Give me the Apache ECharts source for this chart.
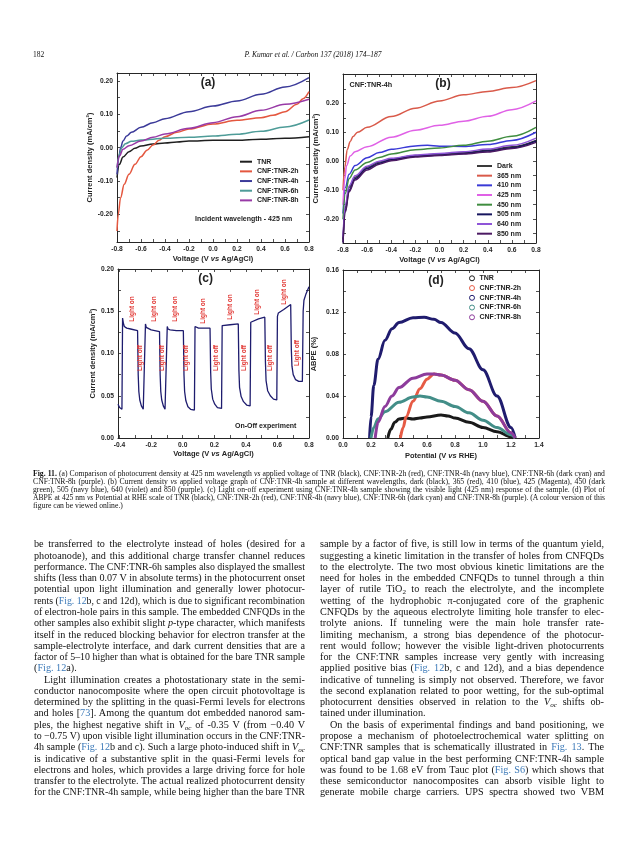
<!DOCTYPE html>
<html><head><meta charset="utf-8">
<script src="https://cdn.jsdelivr.net/npm/echarts@6/dist/echarts.min.js"></script>
<style>
html,body{margin:0;padding:0;background:#fff;}
#page{position:relative;width:638px;height:851px;overflow:hidden;background:#fff;}
#chart{position:absolute;left:0;top:0;width:638px;height:851px;}
.ln{position:absolute;white-space:nowrap;font-family:"Liberation Serif","DejaVu Serif",serif;color:#111;line-height:1;}
.ln span.in{display:inline-block;white-space:nowrap;transform-origin:0 50%;}
.lk{color:#3b79b8;}
sub{font-size:70%;vertical-align:-0.25em;line-height:0;}
</style></head>
<body>
<div id="page">
<div id="chart"></div>
<div id="texts"></div>
</div>
<script>
// ---------------- DATA ----------------
const samples = ['TNR','CNF:TNR-2h','CNF:TNR-4h','CNF:TNR-6h','CNF:TNR-8h'];
// (a) current density vs voltage, 425 nm
const aTNR = [[-0.8,-0.09],[-0.78,-0.05],[-0.75,-0.028],[-0.7,-0.012],[-0.65,-0.002],[-0.6,0.005],[-0.5,0.011],[-0.4,0.014],[-0.3,0.017],[-0.2,0.02],[0,0.022],[0.2,0.022],[0.4,0.025],[0.6,0.028],[0.8,0.033]];
const a2h = [[-0.8,-0.25],[-0.79,-0.2],[-0.77,-0.15],[-0.74,-0.11],[-0.7,-0.08],[-0.65,-0.05],[-0.6,-0.027],[-0.55,-0.008],[-0.5,0.008],[-0.45,0.022],[-0.4,0.033],[-0.3,0.046],[-0.2,0.056],[0,0.071],[0.2,0.082],[0.4,0.09],[0.5,0.097],[0.6,0.108],[0.7,0.13],[0.75,0.147],[0.8,0.168]];
const a4h = [[-0.8,-0.08],[-0.785,-0.03],[-0.77,0.0],[-0.75,0.02],[-0.72,0.035],[-0.68,0.046],[-0.6,0.061],[-0.5,0.075],[-0.4,0.087],[-0.2,0.108],[0,0.125],[0.2,0.14],[0.4,0.16],[0.6,0.182],[0.8,0.21]];
const a6h = [[-0.8,-0.06],[-0.78,-0.02],[-0.76,0.0],[-0.73,0.012],[-0.68,0.019],[-0.6,0.023],[-0.4,0.028],[-0.2,0.031],[0,0.035],[0.2,0.04],[0.4,0.049],[0.6,0.062],[0.8,0.083]];
const a8h = [[-0.8,-0.06],[-0.78,-0.025],[-0.75,-0.005],[-0.7,0.006],[-0.6,0.02],[-0.5,0.031],[-0.4,0.041],[-0.2,0.058],[0,0.075],[0.2,0.093],[0.4,0.112],[0.6,0.13],[0.8,0.145]];
// (b) CNF:TNR-4h at different wavelengths
const wl = ['Dark','365 nm','410 nm','425 nm','450 nm','505 nm','640 nm','850 nm'];
const bDark = [[-0.8,-0.27],[-0.78,-0.16],[-0.75,-0.09],[-0.7,-0.055],[-0.6,-0.02],[-0.5,-0.003],[-0.4,0.008],[-0.2,0.02],[0,0.025],[0.2,0.03],[0.4,0.038],[0.6,0.05],[0.8,0.072]];
const b365 = [[-0.8,-0.1],[-0.785,-0.02],[-0.765,0.04],[-0.74,0.068],[-0.717,0.085],[-0.68,0.1],[-0.6,0.117],[-0.4,0.154],[-0.2,0.183],[0,0.208],[0.2,0.229],[0.4,0.241],[0.6,0.254],[0.8,0.278]];
const b410 = [[-0.8,-0.18],[-0.78,-0.09],[-0.75,-0.045],[-0.7,-0.015],[-0.6,0.012],[-0.5,0.03],[-0.4,0.041],[-0.2,0.053],[-0.1,0.055],[0,0.052],[0.2,0.051],[0.4,0.058],[0.6,0.072],[0.8,0.1]];
const b425 = [[-0.8,-0.15],[-0.785,-0.06],[-0.77,-0.015],[-0.74,0.018],[-0.7,0.033],[-0.6,0.05],[-0.4,0.083],[-0.2,0.107],[0,0.124],[0.2,0.138],[0.4,0.155],[0.6,0.178],[0.8,0.208]];
const b450 = [[-0.8,-0.2],[-0.78,-0.11],[-0.75,-0.06],[-0.7,-0.03],[-0.6,-0.004],[-0.5,0.013],[-0.4,0.025],[-0.2,0.04],[0,0.046],[0.2,0.055],[0.4,0.069],[0.6,0.086],[0.8,0.117]];
const b505 = [[-0.8,-0.28],[-0.78,-0.17],[-0.75,-0.1],[-0.7,-0.06],[-0.6,-0.025],[-0.5,-0.007],[-0.4,0.005],[-0.2,0.017],[0,0.022],[0.2,0.027],[0.4,0.035],[0.6,0.047],[0.8,0.07]];
const b640 = [[-0.8,-0.26],[-0.78,-0.15],[-0.75,-0.085],[-0.7,-0.05],[-0.6,-0.017],[-0.5,0.0],[-0.4,0.01],[-0.2,0.022],[0,0.027],[0.2,0.033],[0.4,0.042],[0.6,0.055],[0.8,0.08]];
const b850 = [[-0.8,-0.28],[-0.78,-0.175],[-0.75,-0.105],[-0.7,-0.065],[-0.6,-0.03],[-0.5,-0.01],[-0.4,0.002],[-0.2,0.015],[0,0.02],[0.2,0.025],[0.4,0.032],[0.6,0.044],[0.8,0.065]];
// (c) on-off chopped photocurrent
const cOnOff = [[-0.41,0.040],[-0.40,0.036],[-0.385,0.034],
 [-0.383,0.034],[-0.381,0.142],[-0.376,0.136],[-0.37,0.132],[-0.355,0.130],[-0.33,0.129],[-0.286,0.127],
 [-0.284,0.127],[-0.282,0.075],[-0.278,0.055],[-0.272,0.045],[-0.262,0.038],[-0.25,0.034],[-0.240,0.033],
 [-0.238,0.033],[-0.236,0.135],[-0.231,0.131],[-0.222,0.129],[-0.2,0.128],[-0.147,0.126],
 [-0.145,0.126],[-0.143,0.075],[-0.139,0.055],[-0.133,0.045],[-0.123,0.038],[-0.112,0.034],[-0.102,0.033],
 [-0.100,0.033],[-0.098,0.132],[-0.093,0.129],[-0.08,0.128],[-0.04,0.127],[0.004,0.127],
 [0.006,0.127],[0.008,0.075],[0.012,0.055],[0.02,0.044],[0.033,0.037],[0.05,0.034],[0.074,0.033],
 [0.076,0.033],[0.078,0.132],[0.083,0.130],[0.1,0.130],[0.14,0.130],[0.173,0.130],
 [0.175,0.130],[0.177,0.078],[0.181,0.058],[0.19,0.046],[0.203,0.040],[0.22,0.036],[0.246,0.035],
 [0.248,0.035],[0.250,0.133],[0.256,0.133],[0.3,0.134],[0.352,0.135],
 [0.354,0.135],[0.356,0.08],[0.36,0.06],[0.37,0.049],[0.385,0.043],[0.405,0.039],[0.427,0.038],
 [0.429,0.038],[0.431,0.137],[0.437,0.139],[0.48,0.141],[0.52,0.143],
 [0.522,0.143],[0.524,0.09],[0.528,0.068],[0.538,0.056],[0.555,0.05],[0.575,0.046],[0.596,0.045],
 [0.598,0.045],[0.600,0.144],[0.606,0.148],[0.64,0.152],[0.684,0.158],
 [0.686,0.158],[0.688,0.105],[0.692,0.085],[0.7,0.075],[0.715,0.069],[0.735,0.067],[0.758,0.067],
 [0.760,0.067],[0.763,0.150],[0.768,0.163],[0.78,0.170],[0.8,0.179]];
// (d) ABPE vs potential (RHE)
const dTNR = [[0.32,0],[0.34,0.008],[0.37,0.015],[0.4,0.018],[0.45,0.019],[0.5,0.018],[0.55,0.019],[0.6,0.02],[0.7,0.022],[0.75,0.021],[0.8,0.019],[0.9,0.015],[1.0,0.01],[1.1,0.006],[1.2,0.001],[1.22,0]];
const d2h = [[0.41,0],[0.43,0.01],[0.45,0.02],[0.5,0.035],[0.55,0.047],[0.6,0.056],[0.65,0.061],[0.7,0.06],[0.8,0.055],[0.9,0.046],[1.0,0.035],[1.1,0.021],[1.2,0.005],[1.23,0]];
const d4h = [[0.19,0],[0.2,0.02],[0.22,0.05],[0.25,0.075],[0.3,0.093],[0.35,0.104],[0.4,0.11],[0.5,0.1145],[0.58,0.115],[0.65,0.113],[0.7,0.11],[0.8,0.1],[0.9,0.085],[1.0,0.065],[1.1,0.04],[1.2,0.01],[1.23,0]];
const d6h = [[0.2,0],[0.22,0.01],[0.25,0.018],[0.3,0.025],[0.4,0.034],[0.5,0.039],[0.55,0.04],[0.6,0.039],[0.7,0.035],[0.8,0.03],[0.9,0.024],[1.0,0.017],[1.1,0.01],[1.2,0.003],[1.23,0]];
const d8h = [[0.23,0],[0.25,0.015],[0.3,0.03],[0.35,0.04],[0.4,0.048],[0.5,0.057],[0.6,0.061],[0.65,0.061],[0.7,0.06],[0.8,0.055],[0.9,0.046],[1.0,0.035],[1.1,0.021],[1.2,0.005],[1.23,0]];
// tick labels
const xTicksAB = [-0.8,-0.6,-0.4,-0.2,0,0.2,0.4,0.6,0.8];
const xMinorAB = [-0.8,-0.7,-0.6,-0.5,-0.4,-0.3,-0.2,-0.1,0,0.1,0.2,0.3,0.4,0.5,0.6,0.7,0.8];
const yTicksAB = [-0.2,-0.1,0,0.1,0.2];
const yMinorA = [-0.25,-0.2,-0.15,-0.1,-0.05,0,0.05,0.1,0.15,0.2];
const yMinorB = [-0.25,-0.2,-0.15,-0.1,-0.05,0,0.05,0.1,0.15,0.2,0.25];
const xTicksC = [-0.4,-0.2,0,0.2,0.4,0.6,0.8];
const xMinorC = [-0.4,-0.3,-0.2,-0.1,0,0.1,0.2,0.3,0.4,0.5,0.6,0.7,0.8];
const yTicksC = [0,0.05,0.1,0.15,0.2];
const yMinorC = [0,0.025,0.05,0.075,0.1,0.125,0.15,0.175,0.2];
const xTicksD = [0,0.2,0.4,0.6,0.8,1.0,1.2,1.4];
const xMinorD = [0,0.1,0.2,0.3,0.4,0.5,0.6,0.7,0.8,0.9,1.0,1.1,1.2,1.3,1.4];
const yTicksD = [0,0.04,0.08,0.12,0.16];
const yMinorD = [0,0.02,0.04,0.06,0.08,0.1,0.12,0.14,0.16];

// ---------------- CHART ----------------
const F = '"Liberation Sans", Arial, sans-serif';
const AX = '#262626';
const colA = ['#1f1f1f','#e4573f','#3b3a99','#4e9c98','#983aa6'];
const colB = ['#3a3a3a','#d95a4a','#3a3ad6','#e061e6','#3f8d3f','#16155e','#8f55d8','#4c1a63'];
const colD = ['#1a1a1a','#e65b45','#201c6e','#438e88','#8d3c9c'];

function xAxes(g,min,max,lab,tick,dec,name,gap){
  return [{type:'value',gridIndex:g,min:min,max:max,position:'bottom',
    axisLine:{show:true,onZero:false,lineStyle:{color:AX,width:1}},
    axisTick:{show:true,inside:true,length:3,customValues:tick,lineStyle:{color:AX,width:0.8}},
    axisLabel:{show:true,customValues:lab,formatter:v=>(Math.abs(v)<1e-9?0:v).toFixed(dec),fontSize:6.7,fontWeight:'bold',color:AX,fontFamily:F,margin:4},
    splitLine:{show:false},name:name,nameLocation:'middle',nameGap:gap,
    nameTextStyle:{fontSize:7.5,fontWeight:'bold',color:AX,fontFamily:F,rich:{i:{fontSize:7.5,fontWeight:'bold',fontStyle:'italic',color:AX,fontFamily:F}}}},
   {type:'value',gridIndex:g,min:min,max:max,position:'top',
    axisLine:{show:true,onZero:false,lineStyle:{color:AX,width:1}},
    axisTick:{show:true,inside:true,length:3,customValues:tick,lineStyle:{color:AX,width:0.8}},
    axisLabel:{show:false},splitLine:{show:false}}];
}
function yAxes(g,min,max,lab,tick,dec,name,gap){
  return [{type:'value',gridIndex:g,min:min,max:max,position:'left',
    axisLine:{show:true,onZero:false,lineStyle:{color:AX,width:1}},
    axisTick:{show:true,inside:true,length:3,customValues:tick,lineStyle:{color:AX,width:0.8}},
    axisLabel:{show:true,customValues:lab,formatter:v=>(Math.abs(v)<1e-9?0:v).toFixed(dec),fontSize:6.7,fontWeight:'bold',color:AX,fontFamily:F,margin:4},
    splitLine:{show:false},name:name,nameLocation:'middle',nameGap:gap,
    nameTextStyle:{fontSize:7.5,fontWeight:'bold',color:AX,fontFamily:F}},
   {type:'value',gridIndex:g,min:min,max:max,position:'right',
    axisLine:{show:true,onZero:false,lineStyle:{color:AX,width:1}},
    axisTick:{show:true,inside:true,length:3,customValues:tick,lineStyle:{color:AX,width:0.8}},
    axisLabel:{show:false},splitLine:{show:false}}];
}
const vName = 'Voltage (V {i|vs} Ag/AgCl)';
const cdName = 'Current density (mA/cm²)';
const xAxis = [].concat(
  xAxes(0,-0.8,0.8,xTicksAB,xMinorAB,1,vName,13),
  xAxes(1,-0.8,0.8,xTicksAB,xMinorAB,1,vName,13),
  xAxes(2,-0.41,0.8,xTicksC,xMinorC,1,vName,12),
  xAxes(3,0,1.4,xTicksD,xMinorD,1,'Potential (V {i|vs} RHE)',14));
const yAxis = [].concat(
  yAxes(0,-0.283,0.224,yTicksAB,yMinorA,2,cdName,20),
  yAxes(1,-0.282,0.301,yTicksAB,yMinorB,2,cdName,19),
  yAxes(2,0,0.2,yTicksC,yMinorC,2,cdName,20),
  yAxes(3,0,0.16,yTicksD,yMinorD,2,'ABPE (%)',25));

function line(name,data,g,color,w,smooth){
  return {type:'line',name:name,data:data,xAxisIndex:g*2,yAxisIndex:g*2,showSymbol:false,symbol:'none',
    smooth:smooth,smoothMonotone:'x',lineStyle:{color:color,width:w},itemStyle:{color:color},animation:false,z:3};
}
const aData=[aTNR,a2h,a4h,a6h,a8h];
const bData=[bDark,b365,b410,b425,b450,b505,b640,b850];
const dData=[dTNR,d2h,d4h,d6h,d8h];
const series=[];
samples.forEach((n,i)=>series.push(line(n,aData[i],0,colA[i],1.5,0.35)));
wl.forEach((n,i)=>series.push(line(n,bData[i],1,colB[i],1.5,0.35)));
series.push(line('On-Off',cOnOff,2,'#1e1c6e',1.3,false));
samples.forEach((n,i)=>series.push(line(n,dData[i],3,colD[i],3,0.35)));

const legText={fontSize:7,fontWeight:'bold',fontFamily:F,color:'#222',lineHeight:8};
const legends=[
  {orient:'vertical',left:240,top:157.7,padding:0,itemWidth:12,itemHeight:2,itemGap:1.67,icon:'rect',selectedMode:false,textStyle:legText,
   data:samples.map((n,i)=>({name:n,itemStyle:{color:colA[i]}}))},
  {orient:'vertical',left:477,top:162,padding:0,itemWidth:15,itemHeight:2,itemGap:1.67,icon:'rect',selectedMode:false,textStyle:legText,
   data:wl.map((n,i)=>({name:n,itemStyle:{color:colB[i]}}))},
  {orient:'vertical',left:469,top:274.3,padding:0,itemWidth:5,itemHeight:5,itemGap:1.75,selectedMode:false,textStyle:legText,
   data:samples.map((n,i)=>({name:n,icon:'circle',itemStyle:{color:'#fff',borderColor:colD[i],borderWidth:1}}))}
];

function T(x,y,text,opt){
  opt=opt||{};
  return {type:'text',x:x,y:y,rotation:opt.rot||0,z:10,silent:true,
    style:{text:text,fill:opt.color||'#222',font:(opt.weight||'bold')+' '+(opt.size||7)+'px '+F,
      align:opt.align||'center',verticalAlign:'middle'}};
}
const R=Math.PI/2;
const onPos=[[132.7,309],[154.3,309],[175,309],[203.3,311],[230.7,307],[257.3,302],[284,292]];
const offPos=[[140,358],[162.7,358],[186.7,358],[216,358],[244.7,358],[270.7,358],[297.3,353]];
const graphic=[
  T(208,83,'(a)',{size:12}),
  T(195,219,'Incident wavelength - 425 nm',{align:'left'}),
  T(349.5,85,'CNF:TNR-4h',{align:'left',size:7.2}),
  T(443,84,'(b)',{size:12}),
  T(205.7,279,'(c)',{size:12}),
  T(235,426,'On-Off experiment',{align:'left'}),
  T(436,281,'(d)',{size:12})
];
onPos.forEach(p=>graphic.push(T(p[0],p[1],'Light on',{rot:R,color:'#e23a36',size:6.5})));
offPos.forEach(p=>graphic.push(T(p[0],p[1],'Light off',{rot:R,color:'#e23a36',size:6.5})));

const grids=[
  {left:117,top:73,width:192,height:169},
  {left:343,top:74,width:193,height:169},
  {left:118,top:269,width:191,height:169},
  {left:343,top:270,width:196,height:168}
];
const chart=echarts.init(document.getElementById('chart'),null,{renderer:'canvas'});
chart.setOption({animation:false,backgroundColor:'transparent',grid:grids,xAxis:xAxis,yAxis:yAxis,series:series,legend:legends,graphic:graphic});

// ---------------- PAGE TEXT ----------------
const header = [['182',33,'left'],['<i>P. Kumar et al. / Carbon 137 (2018) 174–187</i>',313,'center']];
const caption = [
 '<b>Fig. 11.</b>  (a) Comparison of photocurrent density at 425 nm wavelength <i>vs</i> applied voltage of TNR (black), CNF:TNR-2h (red), CNF:TNR-4h (navy blue), CNF:TNR-6h (dark cyan) and',
 'CNF:TNR-8h (purple). (b) Current density <i>vs</i> applied voltage graph of CNF:TNR-4h sample at different wavelengths, dark (black), 365 (red), 410 (blue), 425 (Magenta), 450 (dark',
 'green), 505 (navy blue), 640 (violet) and 850 (purple). (c) Light on-off experiment using CNF:TNR-4h sample showing the visible light (425 nm) response of the sample. (d) Plot of',
 'ABPE at 425 nm <i>vs</i> Potential at RHE scale of TNR (black), CNF:TNR-2h (red), CNF:TNR-4h (navy blue), CNF:TNR-6h (dark cyan) and CNF:TNR-8h (purple). (A colour version of this',
 'figure can be viewed online.)'
];
const leftCol = [
 'be transferred to the electrolyte instead of holes (desired for a',
 'photoanode), and this additional charge transfer channel reduces',
 'performance. The CNF:TNR-6h samples also displayed the smallest',
 'shifts (less than 0.07 V in absolute terms) in the photocurrent onset',
 'potential upon light illumination and generally lower photocur-',
 'rents (<span class="lk">Fig. 12</span>b, c and 12d), which is due to significant recombination',
 'of electron-hole pairs in this sample. The embedded CNFQDs in the',
 'other samples also exhibit slight <i>p</i>-type character, which manifests',
 'itself in the reduced blocking behavior for electron transfer at the',
 'sample-electrolyte interface, and dark current densities that are a',
 'factor of 5–10 higher than what is obtained for the bare TNR sample',
 '(<span class="lk">Fig. 12</span>a).',
 'Light illumination creates a photostationary state in the semi-',
 'conductor nanocomposite where the open circuit photovoltage is',
 'determined by the splitting in the quasi-Fermi levels for electrons',
 'and holes [<span class="lk">73</span>]. Among the quantum dot embedded nanorod sam-',
 'ples, the highest negative shift in <i>V</i><sub><i>oc</i></sub> of -0.35 V (from −0.40 V',
 'to −0.75 V) upon visible light illumination occurs in the CNF:TNR-',
 '4h sample (<span class="lk">Fig. 12</span>b and c). Such a large photo-induced shift in <i>V</i><sub><i>oc</i></sub>',
 'is indicative of a substantive split in the quasi-Fermi levels for',
 'electrons and holes, which provides a large driving force for hole',
 'transfer to the electrolyte. The actual realized photocurrent density',
 'for the CNF:TNR-4h sample, while being higher than the bare TNR'
];
const leftLast=[11], leftIndent=[12];
const rightCol = [
 'sample by a factor of five, is still low in terms of the quantum yield,',
 'suggesting a kinetic limitation in the transfer of holes from CNFQDs',
 'to the electrolyte. The two most obvious kinetic limitations are the',
 'need for holes in the embedded CNFQDs to tunnel through a thin',
 'layer of rutile TiO<sub>2</sub> to reach the electrolyte, and the incomplete',
 'wetting of the hydrophobic π-conjugated core of the graphenic',
 'CNFQDs by the aqueous electrolyte limiting hole transfer to elec-',
 'trolyte anions. If tunneling were the main hole transfer rate-',
 'limiting mechanism, a strong bias dependence of the photocur-',
 'rent would follow; however the visible light-driven photocurrents',
 'for the CNF:TNR samples increase very gently with increasing',
 'applied positive bias (<span class="lk">Fig. 12</span>b, c and 12d), and a bias dependence',
 'indicative of tunneling is simply not observed. Therefore, we favor',
 'the second explanation related to poor wetting, for the sub-optimal',
 'photocurrent densities observed in relation to the <i>V</i><sub><i>oc</i></sub> shifts ob-',
 'tained under illumination.',
 'On the basis of experimental findings and band positioning, we',
 'propose a mechanism of photoelectrochemical water splitting on',
 'CNF:TNR samples that is schematically illustrated in <span class="lk">Fig. 13</span>. The',
 'optical band gap value in the best performing CNF:TNR-4h sample',
 'was found to be 1.68 eV from Tauc plot (<span class="lk">Fig. S6</span>) which shows that',
 'these semiconductor nanocomposites can absorb visible light to',
 'generate mobile charge carriers. UPS spectra showed two VBM'
];
const rightLast=[15], rightIndent=[16];

const box=document.getElementById('texts');
function addLine(html,x,yc,w,size,justify){
  const d=document.createElement('div');
  d.className='ln';
  d.style.left=x+'px'; d.style.top=(yc-size*0.5)+'px'; d.style.fontSize=size+'px';
  d.style.width=w+'px';
  const s=document.createElement('span'); s.className='in'; s.innerHTML=html;
  d.appendChild(s); box.appendChild(d);
  const nat=s.getBoundingClientRect().width;
  if(nat>w){ s.style.transform='scaleX('+(w/nat)+')'; }
  else if(justify){
    const n=(s.textContent.match(/ /g)||[]).length;
    if(n>0) s.style.wordSpacing=((w-nat)/n)+'px';
  }
}
header.forEach(h=>{
  const d=document.createElement('div'); d.className='ln'; d.innerHTML=h[0];
  d.style.fontSize='7.5px'; d.style.top='51px';
  box.appendChild(d);
  const wd=d.getBoundingClientRect().width;
  d.style.left=(h[2]==='center'?h[1]-wd/2:h[1])+'px';
});
caption.forEach((l,i)=>addLine(l,33,474+i*8,572,7.7,i<caption.length-1));
function col(lines,x,w,last,indent){
  lines.forEach((l,i)=>{
    const ind=indent.indexOf(i)>=0?10:0;
    addLine(l,x+ind,544.5+i*11.27,w-ind,10.2,last.indexOf(i)<0);
  });
}
col(leftCol,34,271,leftLast,leftIndent);
col(rightCol,320,284,rightLast,rightIndent);
</script>
</body></html>
